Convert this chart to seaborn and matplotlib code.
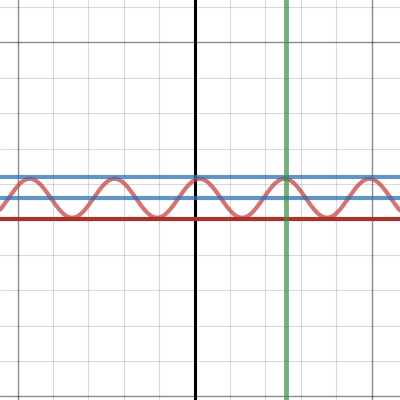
import matplotlib
matplotlib.use("Agg")
import matplotlib.pyplot as plt
import numpy as np
import seaborn as sns

# view window (grid units, one minor cell = 1)
x_range = [-5.5, 5.8]
y_range = [-5.1, 6.2]

# horizontal lines
blue_levels = [1.21, 0.62]
red_level = [0.0]
# vertical line
green_x = [2.57]

# wave parameters
wave_mid = 0.6
wave_amp = 0.55
wave_period = 2.4
wave_peak_x = 0.14

sns.set_style("white")
fig = plt.figure(figsize=(4, 4), dpi=100)
ax = fig.add_axes([0, 0, 1, 1])
ax.set_xlim(x_range)
ax.set_ylim(y_range)

for v in np.arange(-10, 11):
    major = v % 5 == 0
    ax.axvline(v, color="#000000", alpha=0.45 if major else 0.15, lw=1 if major else 0.8, zorder=0)
    ax.axhline(v, color="#000000", alpha=0.45 if major else 0.15, lw=1 if major else 0.8, zorder=0)
ax.axvline(0, color="black", lw=2.2, zorder=1)
ax.axhline(0, color="black", lw=2.2, zorder=1)

xs = np.linspace(x_range[0], x_range[1], 800)
ys = wave_mid + wave_amp * np.cos(2 * np.pi * (xs - wave_peak_x) / wave_period)
sns.lineplot(x=xs, y=ys, ax=ax, color="#c74440", alpha=0.75, lw=3, zorder=3)

for y in blue_levels:
    ax.axhline(y, color="#2d70b3", alpha=0.75, lw=3, zorder=4)
for y in red_level:
    ax.axhline(y, color="#a8322d", lw=3, zorder=4)
for x in green_x:
    ax.axvline(x, color="#388c46", alpha=0.7, lw=3.5, zorder=4)

ax.set_xticks([])
ax.set_yticks([])
for s in ax.spines.values():
    s.set_visible(False)

fig.savefig("out.png", dpi=100)
